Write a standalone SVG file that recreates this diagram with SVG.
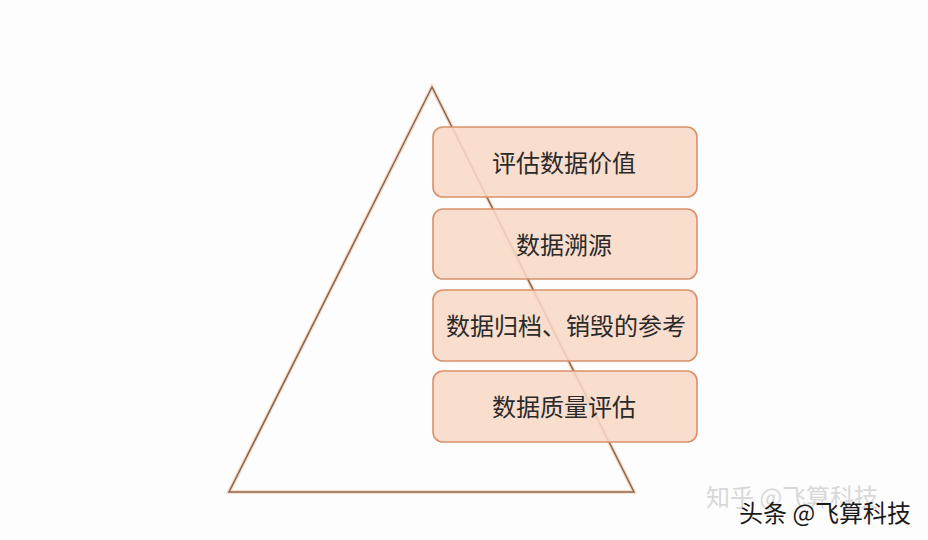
<svg xmlns="http://www.w3.org/2000/svg" width="928" height="540" viewBox="0 0 928 540">
<defs>
<style>
.box{fill:#f8d8c6;fill-opacity:0.88;stroke:#d8916a;stroke-width:1.6}
.lbl{font-family:"Noto Sans CJK SC","Noto Sans",sans-serif;font-size:24px;fill:#2a2a2a;text-anchor:middle;dominant-baseline:central}
.tri{fill:none;stroke:#8f6a52;stroke-width:1.6;stroke-linejoin:miter}
.glow{fill:none;stroke:#f5c9a8;stroke-width:4;opacity:0.6}
</style>
</defs>
<rect width="928" height="540" fill="#fdfdfe"/>
<g id="connectors">
<polygon class="glow" points="432,87 229,492 634,492"/>
<polygon class="tri" points="432,87 229,492 634,492"/>
</g>
<g id="n1"><rect class="box" x="433" y="127" width="264" height="70" rx="10"/><text class="lbl" x="564" y="161">评估数据价值</text></g>
<g id="n2"><rect class="box" x="433" y="209" width="264" height="70" rx="10"/><text class="lbl" x="564" y="243">数据溯源</text></g>
<g id="n3"><rect class="box" x="433" y="290" width="264" height="71" rx="10"/><text class="lbl" x="566" y="324">数据归档、销毁的参考</text></g>
<g id="n4"><rect class="box" x="433" y="371" width="264" height="71" rx="10"/><text class="lbl" x="564" y="405">数据质量评估</text></g>
<g id="watermark">
<text x="706" y="506" font-family="Noto Sans CJK SC,sans-serif" font-size="24" fill="#d8d8d8">知乎 @飞算科技</text>
<text x="739" y="522" font-family="Noto Sans CJK SC,sans-serif" font-size="24" fill="#1a1a1a" stroke="#ffffff" stroke-width="0.6" paint-order="stroke">头条 @飞算科技</text>
</g>
</svg>
